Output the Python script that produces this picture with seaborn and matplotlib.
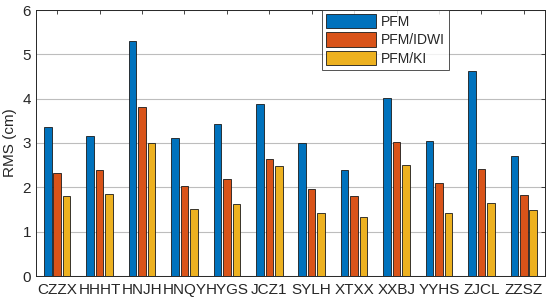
import pandas as pd
import matplotlib
matplotlib.use('Agg')
import matplotlib.pyplot as plt
import seaborn as sns

sns.set_style("white")
plt.rcParams['font.family'] = ['Liberation Sans', 'DejaVu Sans']

stations = ['CZZX', 'HHHT', 'HNJH', 'HNQY', 'HYGS', 'JCZ1', 'SYLH', 'XTXX', 'XXBJ', 'YYHS', 'ZJCL', 'ZZSZ']
pfm = [3.35, 3.15, 5.30, 3.12, 3.42, 3.87, 2.99, 2.38, 4.02, 3.05, 4.62, 2.70]
pfm_idwi = [2.33, 2.40, 3.81, 2.03, 2.19, 2.63, 1.96, 1.81, 3.03, 2.09, 2.41, 1.83]
pfm_ki = [1.80, 1.86, 2.99, 1.52, 1.62, 2.47, 1.43, 1.32, 2.50, 1.41, 1.64, 1.49]
methods = ['PFM', 'PFM/IDWI', 'PFM/KI']
colors = ['#0072BD', '#D95319', '#EDB120']

rows = []
for series, name in zip([pfm, pfm_idwi, pfm_ki], methods):
    for st, v in zip(stations, series):
        rows.append([st, name, v])
df = pd.DataFrame(rows, columns=['Station', 'Method', 'RMS'])

fig = plt.figure(figsize=(5.5, 3.01), dpi=100)
ax = fig.add_axes([36 / 550, 25 / 301, 509 / 550, 266 / 301])
sns.barplot(data=df, x='Station', y='RMS', hue='Method', order=stations, hue_order=methods,
            palette=colors, width=0.67, gap=0.2, edgecolor='#1a1a1a', linewidth=0.6,
            saturation=1, ax=ax, zorder=3)

ax.set_xlim(-0.5, len(stations) - 0.5)
ax.set_ylim(0, 6)
ax.set_yticks(range(0, 7))
ax.set_xlabel('')
ax.set_ylabel('RMS (cm)', fontsize=11)
ax.yaxis.grid(True, color='#bdbdbd', linewidth=0.8, zorder=0)
ax.set_axisbelow(True)
ax.tick_params(axis='both', direction='in', top=True, right=True, length=3,
               color='#262626', labelsize=11, width=0.6)
ax.tick_params(axis='x', pad=5)
for sp in ax.spines.values():
    sp.set_color('#262626')
    sp.set_linewidth(0.7)

leg = ax.legend(loc='upper left', bbox_to_anchor=(0.562, 1.0), fontsize=10,
                frameon=True, fancybox=False, borderaxespad=0, handlelength=3.6,
                handleheight=1.2, labelspacing=0.25, handletextpad=0.3, borderpad=0.3)
leg.get_frame().set_edgecolor('#262626')
leg.get_frame().set_linewidth(0.7)

fig.savefig('out.png', dpi=100)
